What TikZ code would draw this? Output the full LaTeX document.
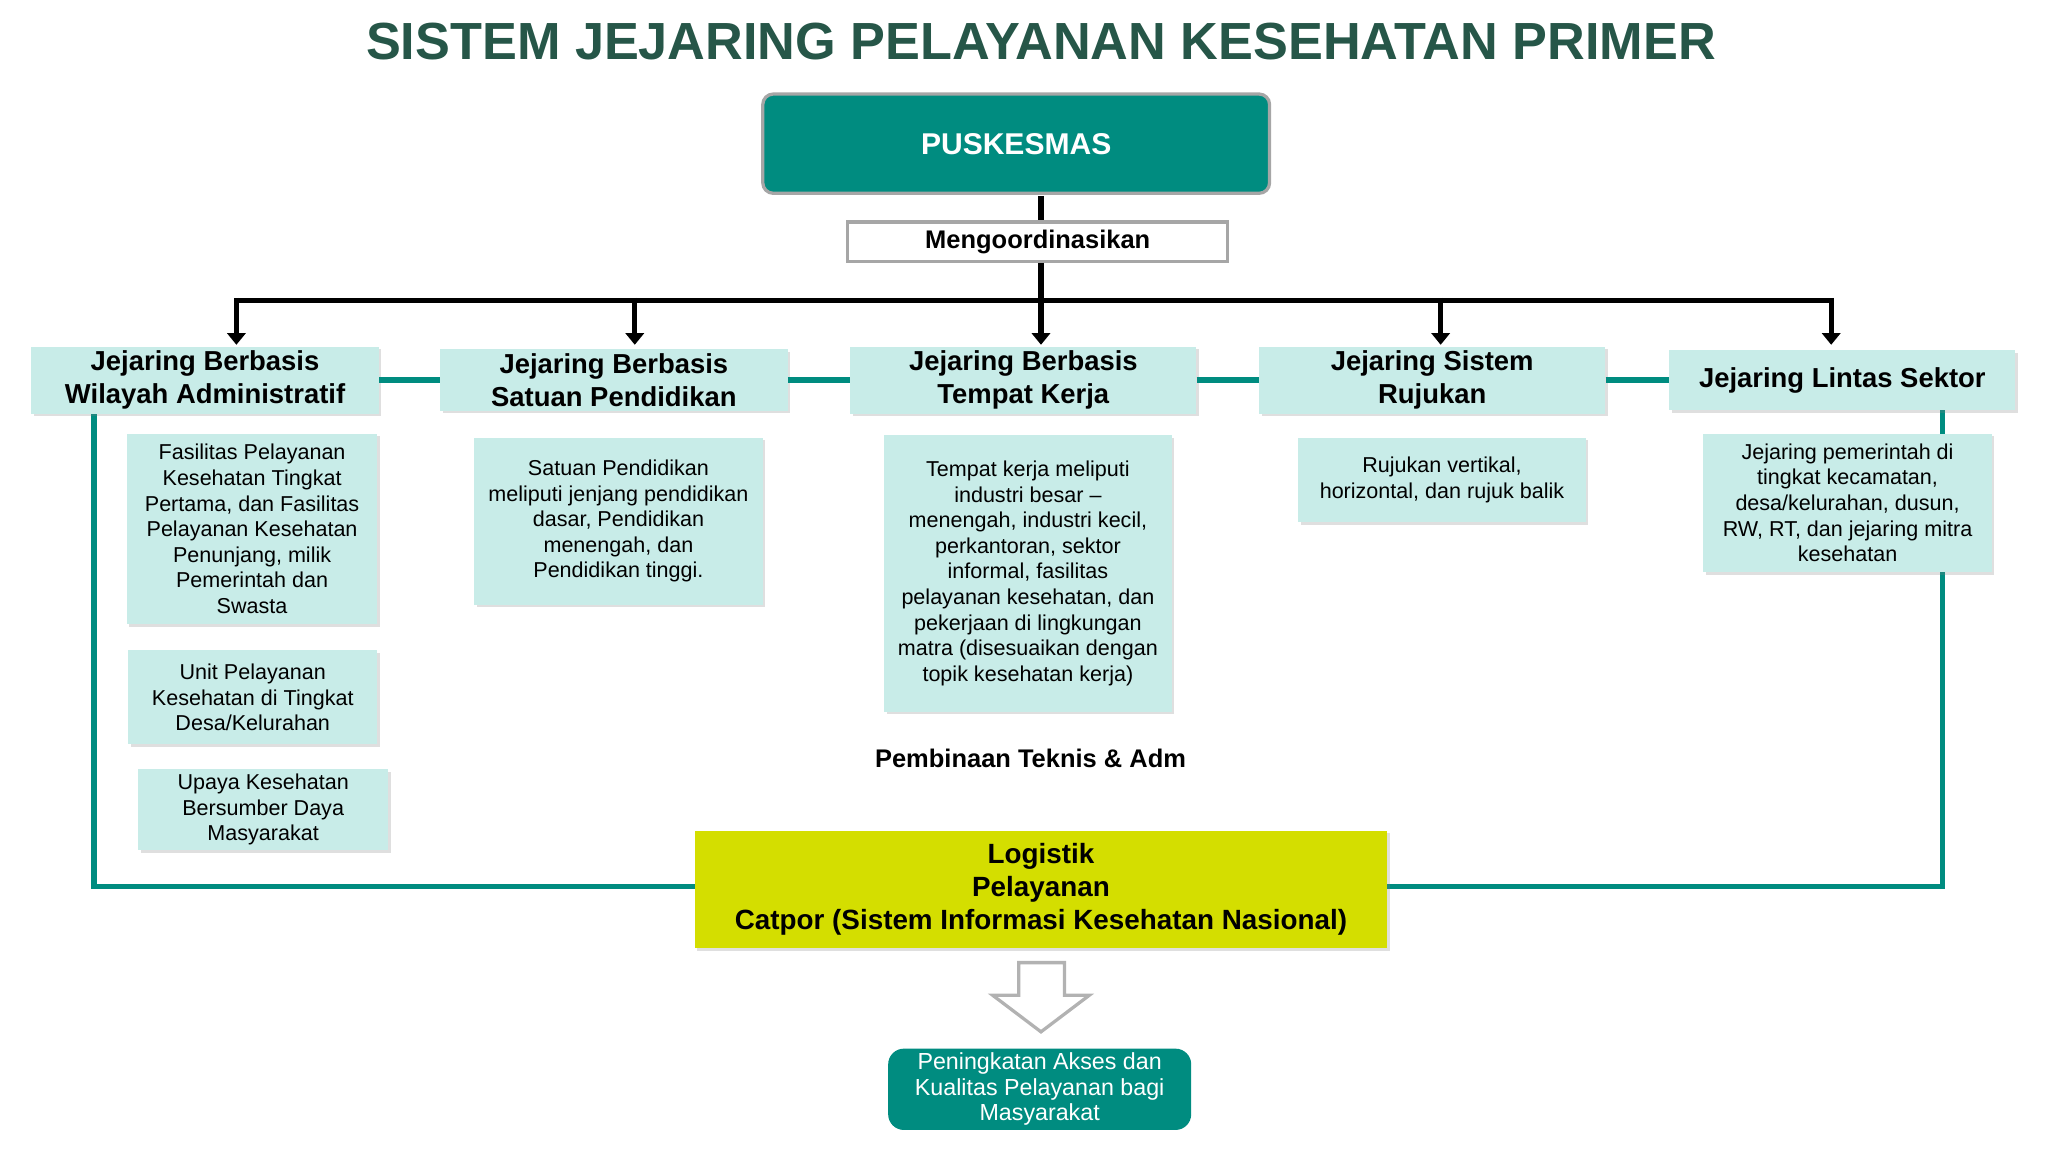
\documentclass[tikz,border=0pt]{standalone}
\usepackage{fontspec}
\setmainfont{Liberation Sans}
\usetikzlibrary{arrows.meta,shadows}
\definecolor{teal1}{RGB}{0,140,128}
\definecolor{titlec}{RGB}{38,86,72}
\definecolor{lightc}{RGB}{200,236,232}
\definecolor{lime}{RGB}{212,222,0}
\tikzset{
 hdr/.style={fill=lightc,draw=none,align=center,font=\fontsize{21}{25}\selectfont\bfseries,drop shadow={opacity=0.25,shadow xshift=2pt,shadow yshift=-2pt}},
 cbox/.style={fill=lightc,draw=none,align=center,font=\fontsize{16.5}{19.6}\selectfont,drop shadow={opacity=0.25,shadow xshift=2pt,shadow yshift=-2pt}},
 blk/.style={line width=4pt,black},
 tl/.style={line width=4pt,teal1},
 arr/.style={line width=4pt,-{Triangle[length=9pt,width=14pt]}}
}
\begin{document}
\begin{tikzpicture}[x=1pt,y=-1pt]
\useasboundingbox (0,0) rectangle (1568,882);
\node[font=\fontsize{40}{44}\selectfont\bfseries,text=titlec] (title) at (797,32) {SISTEM JEJARING PELAYANAN KESEHATAN PRIMER};
% big teal loop
\draw[tl] (72,314) -- (72,679) -- (532,679);
\draw[tl] (1062,679) -- (1487,679) -- (1487,314);
\node[fill=teal1,draw=gray!70,line width=2.5pt,rounded corners=8pt,minimum width=388pt,minimum height=76pt,text=white,font=\fontsize{23}{27}\selectfont\bfseries] (pk) at (778,110) {PUSKESMAS};
\node[fill=white,draw=gray!70,line width=2.5pt,minimum width=291pt,minimum height=30pt,font=\fontsize{19.5}{22}\selectfont\bfseries] (mk) at (794.5,185) {Mengoordinasikan};
\draw[blk] (797,150) -- (mk.north -| 797,0);
\coordinate (j) at (797,230);
\draw[blk] (mk.south -| 797,0) -- (j);
\draw[blk] (181,230) -- (1402,230);
% headers
\node[hdr,minimum width=266pt,minimum height=46pt] (h1) at (157,291) {Jejaring Berbasis\\Wilayah Administratif};
\node[hdr,minimum width=266pt,minimum height=46pt] (h2) at (470,291) {Jejaring Berbasis\\Satuan Pendidikan};
\node[hdr,minimum width=265pt,minimum height=46pt] (h3) at (783.5,291) {Jejaring Berbasis\\Tempat Kerja};
\node[hdr,minimum width=265pt,minimum height=46pt] (h4) at (1096.5,291) {Jejaring Sistem\\Rujukan};
\node[hdr,minimum width=265pt,minimum height=46pt] (h5) at (1410.5,291) {Jejaring Lintas Sektor};
\foreach \x/\h in {181/h1,486/h2,797/h3,1103/h4,1402/h5}
  \draw[arr] (\x,228) -- (\x,264);
\draw[tl] (h1.east) -- (h2.west);
\draw[tl] (h2.east) -- (h3.west);
\draw[tl] (h3.east) -- (h4.west);
\draw[tl] (h4.east) -- (h5.west);
% content
\node[cbox,minimum width=192pt,minimum height=146pt] (c1) at (193,405) {Fasilitas Pelayanan\\Kesehatan Tingkat\\Pertama, dan Fasilitas\\Pelayanan Kesehatan\\Penunjang, milik\\Pemerintah dan\\Swasta};
\node[cbox,minimum width=191pt,minimum height=72pt] (c2) at (193.5,534) {Unit Pelayanan\\Kesehatan di Tingkat\\Desa/Kelurahan};
\node[cbox,minimum width=191pt,minimum height=62pt] (c3) at (201.5,620) {Upaya Kesehatan\\Bersumber Daya\\Masyarakat};
\node[cbox,minimum width=221pt,minimum height=128pt] (c4) at (473.5,399) {Satuan Pendidikan\\meliputi jenjang pendidikan\\dasar, Pendidikan\\menengah, dan\\Pendidikan tinggi.};
\node[cbox,minimum width=220pt,minimum height=212pt] (c5) at (787,439) {Tempat kerja meliputi\\industri besar --\\menengah, industri kecil,\\perkantoran, sektor\\informal, fasilitas\\pelayanan kesehatan, dan\\pekerjaan di lingkungan\\matra (disesuaikan dengan\\topik kesehatan kerja)};
\node[cbox,minimum width=220pt,minimum height=65pt] (c6) at (1104,367.5) {Rujukan vertikal,\\horizontal, dan rujuk balik};
\node[cbox,minimum width=221pt,minimum height=106pt] (c7) at (1414.5,385) {Jejaring pemerintah di\\tingkat kecamatan,\\desa/kelurahan, dusun,\\RW, RT, dan jejaring mitra\\kesehatan};
\node[font=\fontsize{19.5}{22}\selectfont\bfseries] (pb) at (789,581) {Pembinaan Teknis \& Adm};
\node[fill=lime,align=center,minimum width=530pt,minimum height=90pt,font=\fontsize{21.3}{25.5}\selectfont\bfseries,drop shadow={opacity=0.25,shadow xshift=2pt,shadow yshift=-2pt}] (lg) at (797,681) {Logistik\\Pelayanan\\Catpor (Sistem Informasi Kesehatan Nasional)};
\node[fill=teal1,rounded corners=12pt,minimum width=232pt,minimum height=62pt,align=center,text=white,font=\fontsize{17.8}{19.5}\selectfont] (out) at (796,834) {Peningkatan Akses dan\\Kualitas Pelayanan bagi\\Masyarakat};
\draw[gray!60,fill=white,line width=2.5pt,line join=miter] (780,737) -- (815,737) -- (815,762) -- (834,762) -- (797,790) -- (760,762) -- (780,762) -- cycle;
\end{tikzpicture}
\end{document}
